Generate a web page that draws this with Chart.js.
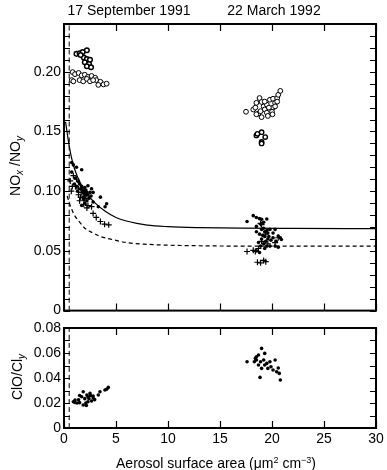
<!DOCTYPE html>
<html><head><meta charset="utf-8">
<script src="https://cdn.jsdelivr.net/npm/chart.js@4.4.1/dist/chart.umd.min.js"></script>
<style>
html,body{margin:0;padding:0;background:#fff;}
body{width:387px;height:470px;position:relative;overflow:hidden;font-family:"Liberation Sans",Arial,sans-serif;color:#000;}
canvas{position:absolute;left:0;}
.lbl{position:absolute;font-size:14px;white-space:nowrap;transform:translate(-50%,-50%);line-height:1;}
.rot{transform:translate(-50%,-50%) rotate(-90deg);}
sub{font-size:10px;font-style:italic;vertical-align:-3px;line-height:0;}
sup{font-size:9px;vertical-align:5px;line-height:0;}
</style></head>
<body>
<canvas id="c1" width="387" height="322" style="top:0"></canvas>
<canvas id="c2" width="387" height="158" style="top:312px"></canvas>
<div class="lbl" style="left:129px;top:10px">17 September 1991</div>
<div class="lbl" style="left:274px;top:10px">22 March 1992</div>
<div class="lbl rot" style="left:15px;top:166px">NO<sub>x</sub> /NO<sub>y</sub></div>
<div class="lbl rot" style="left:17px;top:377px">ClO/Cl<sub>y</sub></div>
<div class="lbl" style="left:216px;top:463px">Aerosol surface area (μm<sup>2</sup> cm<sup>−3</sup>)</div>
<script>
// ---- axis ticks / labels ----
const xTicks = [0, 5, 10, 15, 20, 25, 30];
const noxTicks = [0, 0.05, 0.10, 0.15, 0.20];
const cloTicks = [0, 0.02, 0.04, 0.06, 0.08];
const refLineX = 0.5;

// ---- NOx/NOy panel: model curves ----
const solidCurve = [[0.15,0.158],[0.5,0.138],[0.75,0.127],[1,0.119],[1.5,0.108],[2,0.100],[3,0.090],[4,0.083],[5,0.078],[6,0.075],[7,0.073],[8,0.0715],[10,0.0703],[13,0.0695],[17,0.069],[22,0.0688],[30,0.0686]];
const dashedCurve = [[0.3,0.096],[0.6,0.088],[1,0.080],[1.5,0.074],[2,0.069],[2.8,0.065],[3.5,0.062],[4.4,0.060],[6,0.057],[8,0.0555],[10,0.0548],[13,0.0543],[18,0.054],[24,0.054],[30,0.054]];

// ---- NOx/NOy panel: open circles ----
const sepOpenHi = [[1.2,0.215],[1.5,0.2155],[1.8,0.2166],[2.2,0.218],[1.9,0.212],[2.2,0.2106],[2.5,0.210],[2.0,0.208],[2.4,0.2065],[2.2,0.2046],[2.6,0.2038],[1.6,0.214]];
const sepOpenLo = [[0.83,0.1997],[1.06,0.198],[1.4,0.199],[1.7,0.197],[2.0,0.1975],[2.3,0.1957],[2.65,0.1965],[3.0,0.195],[3.1,0.193],[3.5,0.1916],[3.8,0.1894],[4.1,0.190],[0.74,0.193],[0.9,0.192],[1.5,0.193],[1.85,0.192],[2.2,0.194],[2.5,0.192],[3.3,0.189],[2.8,0.193]];
const marOpenHi = [[17.5,0.1665],[18.2,0.1684],[18.4,0.170],[18.5,0.174],[18.8,0.178],[19.0,0.1747],[19.2,0.171],[19.3,0.1684],[19.5,0.1657],[19.6,0.163],[19.0,0.162],[18.7,0.165],[19.8,0.1766],[20.1,0.1774],[20.3,0.174],[20.5,0.178],[20.6,0.1807],[20.8,0.184],[20.1,0.170],[20.0,0.1665],[20.3,0.171],[19.5,0.1725],[19.7,0.170],[18.9,0.167],[19.3,0.175],[18.5,0.1644],[20.5,0.175],[20.05,0.1644]];
const marOpenLo = [[18.5,0.1467],[18.6,0.148],[19.0,0.1494],[19.35,0.1453],[19.0,0.1412],[19.0,0.140]];

// ---- NOx/NOy panel: filled dots and crosses ----
const sepDots = [[0.74,0.124],[0.9,0.122],[1.7,0.118],[1.2,0.120],[0.74,0.116],[2.3,0.1045],[2.65,0.102],[2.8,0.099],[3.5,0.095],[3.3,0.087],[4.1,0.0895],[3.95,0.087],[2.8,0.091],[2.1,0.097],[1.5,0.106],[1.1,0.111],[1.3,0.100],[1.85,0.095],[1.7,0.088],[2.0,0.099],[2.0,0.103],[2.3,0.097],[2.4,0.094],[1.8,0.100],[1.6,0.102],[2.2,0.092],[1.0,0.106],[1.9,0.098],[2.1,0.101],[2.2,0.099],[1.7,0.104],[2.5,0.099],[1.9,0.093],[2.0,0.090],[1.4,0.108],[2.6,0.096],[1.2,0.104]];
const sepCross = [[0.9,0.113],[0.6,0.1086],[1.2,0.110],[1.1,0.104],[1.4,0.102],[1.65,0.099],[2.0,0.094],[2.65,0.087],[2.8,0.0814],[3.1,0.078],[3.5,0.0746],[3.9,0.0724],[4.3,0.0718],[1.5,0.092],[1.9,0.089],[2.3,0.088],[0.8,0.104],[1.4,0.097],[2.2,0.086],[1.8,0.101],[2.1,0.096],[1.6,0.095],[0.7,0.100]];
const marDots = [[17.6,0.0746],[18.2,0.0795],[18.5,0.078],[18.8,0.077],[19.0,0.0765],[19.5,0.0767],[18.5,0.0705],[19.2,0.074],[19.2,0.069],[19.5,0.067],[19.8,0.068],[20.1,0.065],[20.3,0.068],[20.6,0.0624],[20.8,0.061],[20.9,0.0596],[18.8,0.064],[19.3,0.062],[19.6,0.060],[19.9,0.059],[18.7,0.057],[19.2,0.056],[19.5,0.054],[19.8,0.054],[20.3,0.054],[20.6,0.053],[18.5,0.066],[19.0,0.068],[19.6,0.065],[20.4,0.058],[18.8,0.0487],[18.5,0.050],[19.3,0.052],[20.1,0.061],[19.1,0.063],[19.4,0.058],[19.0,0.060],[19.7,0.062],[19.3,0.066],[18.9,0.054]];
const marCross = [[17.6,0.0495],[18.2,0.0505],[18.4,0.0495],[18.7,0.052],[18.6,0.0405],[18.9,0.040],[19.2,0.042],[19.4,0.041],[18.9,0.073],[19.0,0.072],[19.6,0.056],[20.3,0.057],[20.6,0.061],[19.0,0.058],[19.4,0.064]];

// ---- ClO/Cly panel ----
const sepClo = [[0.9,0.021],[1.06,0.0224],[1.4,0.0226],[1.5,0.0203],[1.25,0.020],[1.7,0.025],[1.85,0.029],[2.0,0.0235],[2.2,0.0264],[2.3,0.025],[2.5,0.0277],[2.4,0.0235],[2.65,0.0216],[2.1,0.020],[1.85,0.0184],[2.15,0.018],[2.8,0.0256],[2.95,0.0227],[3.3,0.0264],[3.46,0.029],[3.94,0.0304],[4.26,0.0325],[4.1,0.031],[2.55,0.026],[1.5,0.026],[1.05,0.0205],[2.3,0.021],[2.8,0.024]];
const marClo = [[19.0,0.0637],[19.3,0.0597],[18.7,0.0584],[18.5,0.0544],[18.3,0.053],[18.9,0.053],[19.2,0.0544],[19.5,0.0517],[19.8,0.053],[20.3,0.0544],[18.7,0.0504],[19.0,0.0477],[19.6,0.0477],[19.9,0.049],[20.1,0.0464],[20.45,0.045],[20.7,0.0437],[20.6,0.048],[18.85,0.0405],[20.8,0.0384],[18.5,0.057],[19.3,0.0504],[18.4,0.0557],[17.6,0.053]];

const pts = a => a.map(([x, y]) => ({x, y}));
const FONT = {family: '"Liberation Sans", Arial, sans-serif', size: 14};

const framePlugin = {
  id: 'frame',
  afterDatasetsDraw(chart, args, o) {
    const {ctx, chartArea: a, scales: {x, y}} = chart;
    ctx.save();
    ctx.strokeStyle = '#000';
    ctx.lineWidth = 1.2;
    ctx.beginPath();
    for (let v = 0; v <= o.yMax + 1e-9; v += o.yStep) {
      const py = Math.round(y.getPixelForValue(v)) + 0.5;
      ctx.moveTo(a.left, py); ctx.lineTo(a.left + 6, py);
      ctx.moveTo(a.right, py); ctx.lineTo(a.right - 6, py);
    }
    xTicks.forEach(v => {
      const px = Math.round(x.getPixelForValue(v)) + 0.5;
      ctx.moveTo(px, a.top); ctx.lineTo(px, a.top + 7);
      ctx.moveTo(px, a.bottom); ctx.lineTo(px, a.bottom - 7);
    });
    ctx.stroke();
    ctx.lineWidth = 2;
    ctx.strokeRect(a.left, a.top, a.right - a.left, a.bottom - a.top);
    ctx.restore();
  }
};

const fmt = v => (v === 0 ? '0' : v.toFixed(2));

function yScale(min, max, ticksArr) {
  return {
    type: 'linear', min, max,
    afterBuildTicks: s => { s.ticks = ticksArr.map(v => ({value: v})); },
    afterFit: s => { s.width = 64; },
    grid: {display: false, drawTicks: false},
    border: {display: false},
    ticks: {color: '#000', font: FONT, padding: 3, callback: v => fmt(v)}
  };
}

const line = (data, dash, w) => ({data: pts(data), showLine: true, pointRadius: 0, borderColor: '#000', borderWidth: w, borderDash: dash, cubicInterpolationMode: 'monotone', fill: false});
const circ = (data, bw, r) => ({data: pts(data), pointStyle: 'circle', pointRadius: r, borderColor: '#000', backgroundColor: '#fff', pointBorderWidth: bw, showLine: false});
const dots = (data, r) => ({data: pts(data), pointStyle: 'circle', pointRadius: r, borderColor: '#000', backgroundColor: '#000', pointBorderWidth: 0, showLine: false});
const cross = data => ({data: pts(data), pointStyle: 'cross', pointRadius: 3, borderColor: '#000', pointBorderWidth: 1.2, showLine: false});

const common = {
  responsive: false, animation: false, devicePixelRatio: 1,
  plugins: {legend: {display: false}, tooltip: {enabled: false}},
};

new Chart(document.getElementById('c1'), {
  type: 'scatter',
  data: {datasets: [
    line([[refLineX, 0], [refLineX, 0.24]], [5, 3], 1),
    line(solidCurve, [], 1.2),
    line(dashedCurve, [4, 3], 1.2),
    circ(sepOpenHi, 1.5, 2.3),
    circ(sepOpenLo, 1, 2.4),
    circ(marOpenHi, 1, 2.4),
    circ(marOpenLo, 1.4, 2.2),
    dots(sepDots, 1.8),
    cross(sepCross),
    dots(marDots, 1.8),
    cross(marCross)
  ]},
  options: Object.assign({}, common, {
    layout: {padding: {left: 0, top: 24, right: 11, bottom: 4}},
    scales: {
      x: {type: 'linear', min: 0, max: 30, display: false},
      y: yScale(0, 0.24, noxTicks)
    },
    plugins: Object.assign({}, common.plugins, {frame: {yStep: 0.01, yMax: 0.24}})
  }),
  plugins: [framePlugin]
});

new Chart(document.getElementById('c2'), {
  type: 'scatter',
  data: {datasets: [
    line([[refLineX, 0], [refLineX, 0.08]], [5, 3], 1),
    dots(sepClo, 1.8),
    dots(marClo, 1.8)
  ]},
  options: Object.assign({}, common, {
    layout: {padding: {left: 0, top: 16, right: 11, bottom: 0}},
    scales: {
      x: {
        type: 'linear', min: 0, max: 30,
        afterBuildTicks: s => { s.ticks = xTicks.map(v => ({value: v})); },
        afterFit: s => { s.height = 42; },
        grid: {display: false, drawTicks: false},
        border: {display: false},
        ticks: {color: '#000', font: FONT, padding: 3, maxRotation: 0, autoSkip: false, callback: v => String(v)}
      },
      y: yScale(0, 0.08, cloTicks)
    },
    plugins: Object.assign({}, common.plugins, {frame: {yStep: 0.01, yMax: 0.08}})
  }),
  plugins: [framePlugin]
});
</script>
</body></html>
